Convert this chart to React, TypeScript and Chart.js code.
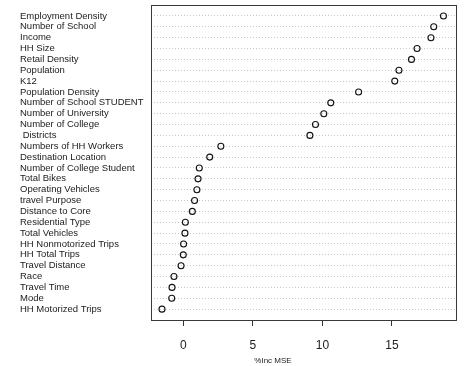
import React, { useEffect, useRef } from "react";
import { Chart, registerables } from "chart.js";

Chart.register(...registerables);

const variables = [
  "Employment Density",
  "Number of School",
  "Income",
  "HH Size",
  "Retail Density",
  "Population",
  "K12",
  "Population Density",
  "Number of School STUDENT",
  "Number of University",
  "Number of College",
  " Districts",
  "Numbers of HH Workers",
  "Destination Location",
  "Number of College Student",
  "Total Bikes",
  "Operating Vehicles",
  "travel Purpose",
  "Distance to Core",
  "Residential Type",
  "Total Vehicles",
  "HH Nonmotorized Trips",
  "HH Total Trips",
  "Travel Distance",
  "Race",
  "Travel Time",
  "Mode",
  "HH Motorized Trips",
];

const incMSE = [
  18.7, 18.0, 17.8, 16.8, 16.4, 15.5, 15.2, 12.6, 10.6, 10.1, 9.5, 9.1,
  2.7, 1.9, 1.15, 1.06, 0.98, 0.81, 0.65, 0.15, 0.12, 0.02, 0.0, -0.16,
  -0.67, -0.81, -0.83, -1.53,
];

const xTicks = [0, 5, 10, 15];
const xTitle = "%Inc MSE";

const boxPlugin = {
  id: "boxAndTitle",
  afterDraw(chart: any) {
    const { ctx, chartArea } = chart;
    ctx.save();
    ctx.strokeStyle = "#3a3a3a";
    ctx.lineWidth = 1;
    ctx.strokeRect(
      Math.round(chartArea.left) + 0.5,
      Math.round(chartArea.top) + 0.5,
      Math.round(chartArea.right - chartArea.left),
      Math.round(chartArea.bottom - chartArea.top)
    );
    ctx.fillStyle = "#222";
    ctx.font = "8px 'Liberation Sans', Arial, sans-serif";
    ctx.textAlign = "center";
    ctx.textBaseline = "middle";
    ctx.fillText(
      xTitle,
      chartArea.left + (chartArea.right - chartArea.left) * 0.4,
      chart.height - 5
    );
    ctx.restore();
  },
};

export default function App() {
  const ref = useRef<HTMLCanvasElement>(null);
  useEffect(() => {
    document.body.style.margin = "0";
    const data = incMSE.map((v, i) => ({ x: v, y: i + 1 }));
    const chart = new Chart(ref.current!, {
      type: "scatter",
      data: {
        datasets: [
          {
            data,
            pointStyle: "circle",
            pointRadius: 3,
            pointBorderWidth: 1.1,
            pointBorderColor: "#111",
            pointBackgroundColor: "rgba(255,255,255,0)",
            showLine: false,
          },
        ],
      },
      options: {
        animation: false,
        responsive: false,
        maintainAspectRatio: false,
        events: [],
        layout: { padding: { left: 20, top: 3, right: 18, bottom: 0 } },
        plugins: { legend: { display: false }, tooltip: { enabled: false } },
        scales: {
          x: {
            type: "linear",
            min: -2.32,
            max: 19.6,
            afterBuildTicks: (s: any) => {
              s.ticks = xTicks.map((v) => ({ value: v }));
            },
            afterFit: (s: any) => {
              s.height = 46;
              s.paddingLeft = 0;
              s.paddingRight = 0;
            },
            border: { display: false },
            grid: {
              drawOnChartArea: false,
              drawTicks: true,
              tickLength: 6,
              tickColor: "#333",
            },
            ticks: {
              padding: 12,
              color: "#222",
              font: { family: "'Liberation Sans', Arial, sans-serif", size: 12 },
            },
          },
          y: {
            type: "linear",
            min: 0,
            max: variables.length + 1,
            reverse: true,
            afterBuildTicks: (s: any) => {
              s.ticks = variables.map((_, i) => ({ value: i + 1 }));
            },
            afterFit: (s: any) => {
              s.width = 131;
              s.paddingTop = 0;
              s.paddingBottom = 0;
            },
            border: { display: false, dash: [1, 2] },
            grid: {
              drawTicks: false,
              color: "#c8c8c8",
              lineWidth: 1,
            },
            ticks: {
              autoSkip: false,
              crossAlign: "far",
              padding: 6,
              color: "#1a1a1a",
              font: { family: "'Liberation Sans', Arial, sans-serif", size: 9.5 },
              callback: (v: any) => variables[Number(v) - 1] ?? "",
            },
          },
        },
      },
      plugins: [boxPlugin],
    });
    return () => chart.destroy();
  }, []);
  return <canvas ref={ref} width={474} height={366} style={{ display: "block" }} />;
}
